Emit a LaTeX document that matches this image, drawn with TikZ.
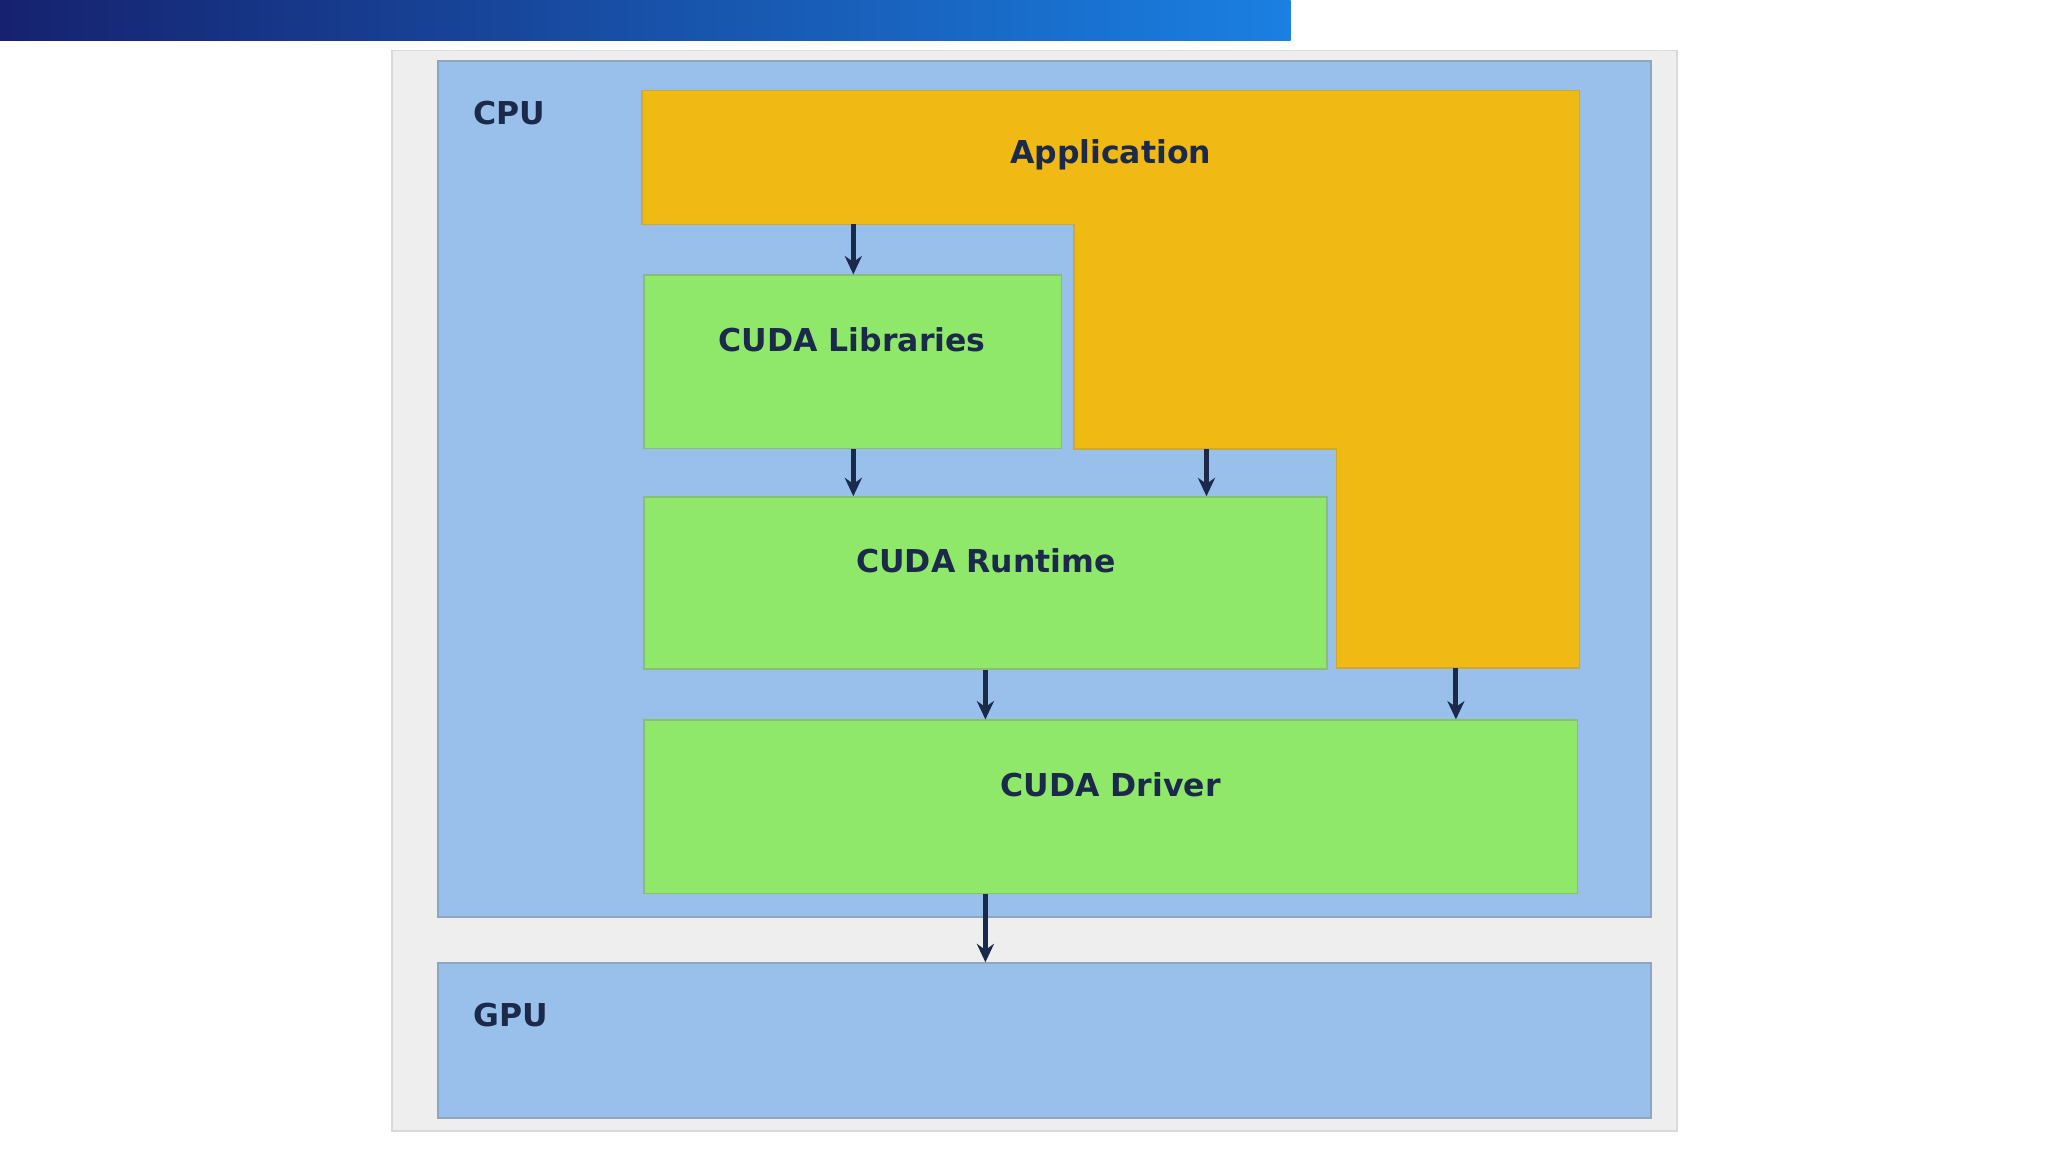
\documentclass[tikz,border=0pt]{standalone}
\usepackage{fontspec}
\setmainfont{DejaVu Sans}
\usetikzlibrary{arrows.meta}
\definecolor{navy}{HTML}{1B2A4A}
\definecolor{cpublue}{HTML}{98C0EA}
\definecolor{appor}{HTML}{F0B914}
\definecolor{grn}{HTML}{90E86A}
\definecolor{panel}{HTML}{EEEEEE}
\tikzset{
 box/.style={draw=#1!60!gray,line width=1.2pt,anchor=north west,inner sep=0pt},
 grnbox/.style={box=grn,fill=grn},
 lbl/.style={font=\fontsize{24}{28}\selectfont\bfseries,text=navy,inner sep=0pt},
 arr/.style={draw=navy,line width=3.8pt,-{Stealth[length=14pt,width=13pt]}}
}
\begin{document}
\begin{tikzpicture}[x=1pt,y=-1pt]
\useasboundingbox (0,0) rectangle (1560,877.5);
\fill[white] (0,0) rectangle (1560,877.5);
\shade[left color=navy!80!blue,right color={rgb,255:red,26;green,128;blue,226}] (0,0) rectangle (983,31);
\node[box=panel,fill=panel,draw=gray!30,minimum width=979,minimum height=823] (panel) at (298,38) {};
\node[box=cpublue,fill=cpublue,minimum width=924,minimum height=652] (cpu) at (333,46) {};
\node[lbl] (cputxt) at (388,86) {CPU};
\filldraw[fill=appor,draw=appor!70!gray,line width=1.2pt] (489,69) -- (1203,69) -- (1203,509) -- (1018,509) -- (1018,342) -- (818,342) -- (818,171) -- (489,171) -- cycle;
\node[lbl] (app) at (846,118) {Application};
\node[grnbox,minimum width=318,minimum height=132] (lib) at (490,209) {};
\node[lbl] (libtxt) at (649,259) {CUDA Libraries};
\node[grnbox,minimum width=520,minimum height=131] (rt) at (490,378) {};
\node[lbl] (rttxt) at (751,427) {CUDA Runtime};
\node[grnbox,minimum width=711,minimum height=132] (drv) at (490,548) {};
\node[lbl] (drvtxt) at (846,598) {CUDA Driver};
\node[box=cpublue,fill=cpublue,minimum width=924,minimum height=118] (gpu) at (333,733) {};
\node[lbl] (gputxt) at (389,773) {GPU};
\coordinate (a1) at (650,171); \coordinate (a2) at (919,342); \coordinate (a3) at (1109,509);
\draw[arr] (a1) -- (a1 |- lib.north);
\draw[arr] (lib.south -| a1) -- (a1 |- rt.north);
\draw[arr] (a2) -- (a2 |- rt.north);
\draw[arr] (rt.south) -- (rt.south |- drv.north);
\draw[arr] (a3) -- (a3 |- drv.north);
\draw[arr] (drv.south -| rt.south) -- (rt.south |- gpu.north);
\end{tikzpicture}
\end{document}
